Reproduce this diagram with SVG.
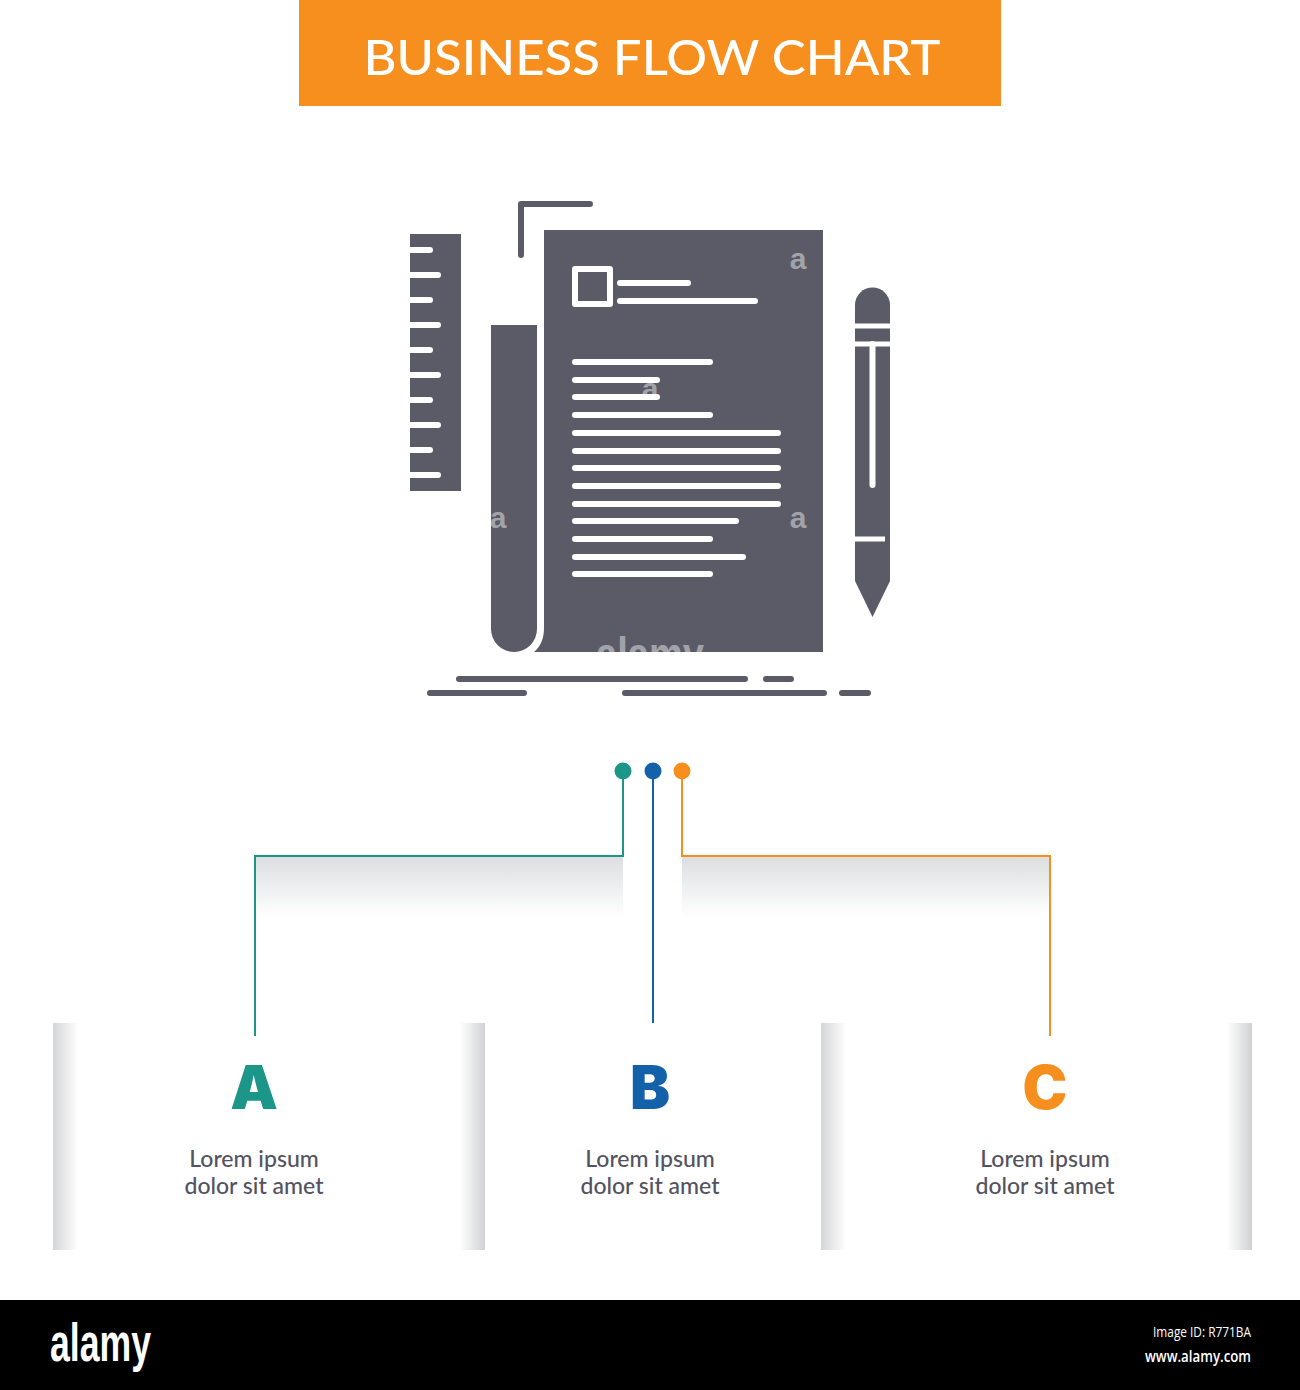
<svg xmlns="http://www.w3.org/2000/svg" width="1300" height="1390" viewBox="0 0 1300 1390">
<style>
.ic{fill:#5b5a67}
.w{stroke:#fff;stroke-width:6;stroke-linecap:round;fill:none}
.d{stroke:#5b5a67;stroke-width:6;stroke-linecap:round;fill:none}
.lab{font-family:"Lato","Open Sans","Liberation Sans",sans-serif;font-size:23px;font-weight:500;fill:#53525f;text-anchor:middle}
.let{font-family:"Inter","Liberation Sans",sans-serif;font-size:60px;font-weight:900;text-anchor:middle}
.wm{font-family:"Liberation Sans",sans-serif;font-weight:700;fill:#fff;fill-opacity:.45;text-anchor:middle}
.foot{font-family:"Open Sans","Liberation Sans",sans-serif;fill:#fff;text-anchor:end}
.con{fill:none;stroke-width:2}
</style>
<defs>
<linearGradient id="sh" x1="0" y1="0" x2="0" y2="1"><stop offset="0" stop-color="#dcdee0"/><stop offset="1" stop-color="#fff"/></linearGradient>
<linearGradient id="l" x1="0" y1="0" x2="1" y2="0"><stop offset="0" stop-color="#d4d5d7"/><stop offset="1" stop-color="#fff"/></linearGradient>
<linearGradient id="r" x1="0" y1="0" x2="1" y2="0"><stop offset="0" stop-color="#fff"/><stop offset="1" stop-color="#d0d1d3"/></linearGradient>
<clipPath id="pc"><rect x="530" y="230" width="293" height="422"/></clipPath>
</defs>
<rect width="1300" height="1390" fill="#fff"/>
<g id="header">
<rect x="299" y="0" width="702" height="106" fill="#f78f1e"/>
<text x="652" y="75" font-family="Lato,'Open Sans','Liberation Sans',sans-serif" font-size="48" font-weight="500" fill="#fff" text-anchor="middle" textLength="577" lengthAdjust="spacingAndGlyphs">BUSINESS FLOW CHART</text>
</g>
<g id="icon">
<path class="ic" d="M410 234H461V491H410Z"/>
<g class="w">
<path d="M407 250H430M407 275H438M407 300H430M407 325H438M407 350H430M407 375H438M407 400H430M407 425H438M407 450H430M407 475H438"/>
</g>
<path d="M521 255V204H590" fill="none" stroke="#5b5a67" stroke-width="6" stroke-linecap="round" stroke-linejoin="round"/>
<path class="ic" d="M544 230H823V652H534C541 646 544 638 544 628Z"/>
<path class="ic" d="M491 325H537V629A23 23 0 0 1 491 629Z"/>
<rect x="575" y="269" width="35" height="35" fill="none" stroke="#fff" stroke-width="6" stroke-linejoin="round"/>
<path class="w" d="M620 283H688M620 301H755M575 362H710M575 380H657M575 397H657M575 415H710M575 433H778M575 451H778M575 468H778M575 486H778M575 504H778M575 521H736M575 539H710M575 557H743M575 574H710"/>
<path class="ic" d="M855 305A17.500 17.500 0 0 1 890 305V581L872.500 617L855 581Z"/>
<path class="w" d="M855 326H890M855 344H890M872.500 344V485M855 539H885" style="stroke-linecap:butt;stroke-width:5"/>
<path class="w" d="M872.500 344V485" style="stroke-width:6"/>
<path class="d" d="M459 679H745M766 679H791M430 693H524M625 693H824M842 693H868"/>
<g clip-path="url(#pc)">
<text class="wm" x="650" y="670" font-size="46" textLength="108" lengthAdjust="spacingAndGlyphs">alamy</text>
<text class="wm" x="798" y="269" font-size="30">a</text>
<text class="wm" x="650" y="399" font-size="30">a</text>
<text class="wm" x="798" y="528" font-size="30">a</text>
</g>
<text class="wm" x="498" y="528" font-size="30">a</text>
</g>
<g id="shadows">
<rect x="255" y="857" width="368" height="60" fill="url(#sh)"/>
<rect x="682" y="857" width="368" height="60" fill="url(#sh)"/>
</g>
<g id="connectors">
<path class="con" stroke="#1b9688" d="M255 1036V856H623V771"/>
<path class="con" stroke="#1361a8" d="M653 771V1023"/>
<path class="con" stroke="#f78f1e" d="M682 771V856H1050V1036"/>
<circle cx="623" cy="771" r="8.500" fill="#1b9688"/>
<circle cx="653" cy="771" r="8.500" fill="#1361a8"/>
<circle cx="682" cy="771" r="8.500" fill="#f78f1e"/>
</g>
<g id="node-a">
<rect x="53" y="1023" width="25" height="227" fill="url(#l)"/>
<rect x="460" y="1023" width="25" height="227" fill="url(#r)"/>
<text class="let" x="254" y="1109" fill="#1b9688">A</text>
<text class="lab" x="254" y="1167">Lorem ipsum</text>
<text class="lab" x="254" y="1194">dolor sit amet</text>
</g>
<g id="node-b">
<rect x="821" y="1023" width="25" height="227" fill="url(#l)"/>
<text class="let" x="650" y="1109" fill="#1361a8">B</text>
<text class="lab" x="650" y="1167">Lorem ipsum</text>
<text class="lab" x="650" y="1194">dolor sit amet</text>
</g>
<g id="node-c">
<rect x="1227" y="1023" width="25" height="227" fill="url(#r)"/>
<text class="let" x="1045" y="1109" fill="#f78f1e">C</text>
<text class="lab" x="1045" y="1167">Lorem ipsum</text>
<text class="lab" x="1045" y="1194">dolor sit amet</text>
</g>
<g id="footer">
<rect x="0" y="1300" width="1300" height="90" fill="#000"/>
<text x="50" y="1361" font-family="'Liberation Sans',sans-serif" font-size="54" font-weight="700" fill="#fff" textLength="101" lengthAdjust="spacingAndGlyphs">alamy</text>
<text class="foot" x="1251" y="1337" font-size="15" textLength="98" lengthAdjust="spacingAndGlyphs">Image ID: R771BA</text>
<text class="foot" x="1251" y="1362" font-size="16" font-weight="600" textLength="106" lengthAdjust="spacingAndGlyphs">www.alamy.com</text>
</g>
</svg>
